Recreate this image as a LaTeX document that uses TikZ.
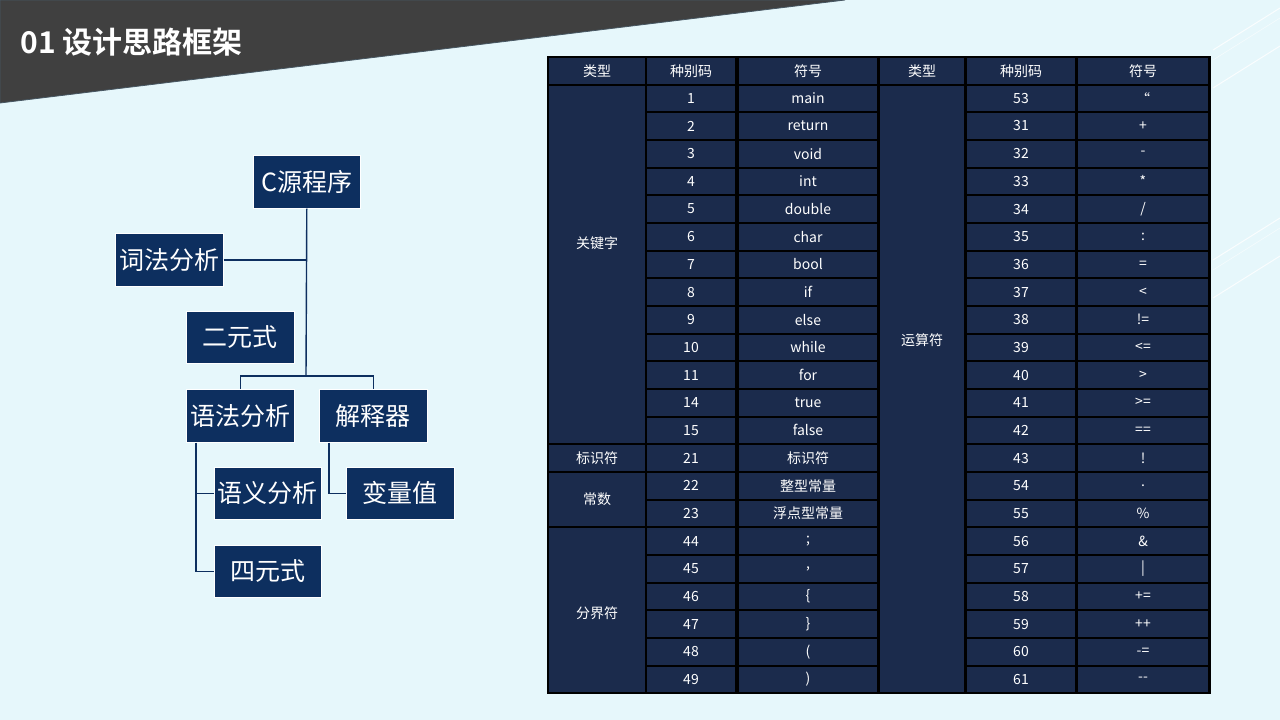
\documentclass[tikz,border=0pt]{standalone}
\usepackage{fontspec}
\setmainfont{Noto Sans CJK SC}
\newfontfamily\cjkb{Noto Sans CJK SC}[BoldFont={* Bold}]
\definecolor{bg}{HTML}{E6F7FB}
\definecolor{cell}{HTML}{1B2B4C}
\definecolor{boxc}{HTML}{0D2F5F}
\definecolor{ban}{HTML}{404040}
\begin{document}
\begin{tikzpicture}[x=1pt,y=-1pt,
  box/.style={fill=boxc,draw=white,line width=0.6pt,text=white,font=\fontsize{25}{25}\selectfont,inner sep=0pt,anchor=north west},
  conn/.style={draw=boxc,line width=1.4pt},
  tx/.style={text=white,font=\fontsize{14}{14}\selectfont}]
\fill[bg] (0,0) rectangle (1280,720);
\useasboundingbox (0,0) rectangle (1280,720);
% decorations
\foreach \y in {0,210} {
  \draw[white,line width=1pt,opacity=.8] (1213,50+\y) -- (1280,8+\y);
  \draw[white,line width=0.6pt,opacity=.6] (1213,60+\y) -- (1280,18+\y);
  \draw[white,line width=1pt,opacity=.8] (1213,88+\y) -- (1280,46+\y);
}
% banner
\fill[ban,draw=black!70!cyan,line width=0.8pt] (0,0) -- (845,0) -- (0,103) -- cycle;
\node[anchor=west,text=white,font=\cjkb\bfseries\fontsize{30}{30}\selectfont] (title) at (17,42) {01 设计思路框架};
% tree
\node[box,minimum width=107,minimum height=53] (c) at (253,155) {C源程序};
\node[box,minimum width=108,minimum height=53] (lex) at (115,233) {词法分析};
\node[box,minimum width=108,minimum height=52] (bin) at (186,311) {二元式};
\node[box,minimum width=108,minimum height=53] (syn) at (186,389) {语法分析};
\node[box,minimum width=108,minimum height=53] (interp) at (319,389) {解释器};
\node[box,minimum width=107,minimum height=52] (sem) at (214,467) {语义分析};
\node[box,minimum width=108,minimum height=52] (var) at (346,467) {变量值};
\node[box,minimum width=107,minimum height=52] (quad) at (214,545) {四元式};
\coordinate (j) at (306,376);
\draw[conn] (c.south) -- (j);
\draw[conn] (lex.east) -- (lex.east -| j);
\draw[conn] (syn.north) |- (j) -| (interp.north);
\draw[conn] (syn.south west) ++(10,0) coordinate (sl) -- (sl |- quad.west) -- (quad.west);
\draw[conn] (sl |- sem.west) -- (sem.west);
\draw[conn] (interp.south west) ++(10,0) coordinate (il) |- (var.west);
% table
\fill[black] (547,56) rectangle (1211,694);
\def\cx{{549,647,739,880,967,1078}}
\def\cw{{96,88,138,84,108,130}}
\newcommand\cellat[6][]{% [ycenter], col, firstrow, lastrow, text, name
  \pgfmathsetmacro\xa{\cx[#2]}\pgfmathsetmacro\wa{\cw[#2]}
  \pgfmathsetmacro\ya{ifthenelse(#3<0,58,85.5+#3*27.67)}
  \pgfmathsetmacro\yb{85.5+(#4+1)*27.67-2}
  \def\yc{#1}\ifx\yc\empty\pgfmathsetmacro\yc{(\ya+\yb)/2}\fi
  \fill[cell] (\xa,\ya) rectangle (\xa+\wa,\yb);
  \node[tx] (#6) at (\xa+\wa/2,\yc) {#5};}
\cellat{0}{-1}{-1}{类型}{h1}\cellat{1}{-1}{-1}{种别码}{h2}\cellat{2}{-1}{-1}{符号}{h3}
\cellat{3}{-1}{-1}{类型}{h4}\cellat{4}{-1}{-1}{种别码}{h5}\cellat{5}{-1}{-1}{符号}{h6}
\cellat[243]{0}{0}{12}{关键字}{t1}\cellat{0}{13}{13}{标识符}{t2}
\cellat{0}{14}{15}{常数}{t3}\cellat[613]{0}{16}{21}{分界符}{t4}
\cellat[340]{3}{0}{21}{运算符}{t5}
\foreach \c/\s [count=\i from 0] in {1/main,2/return,3/void,4/int,5/double,6/char,7/bool,8/if,9/else,10/while,11/for,14/true,15/false,21/标识符,22/整型常量,23/浮点型常量,44/;,45/{,},46/\{,47/\},48/(,49/)} {
  \cellat{1}{\i}{\i}{\c}{a\i}\cellat{2}{\i}{\i}{\s}{b\i}}
\foreach \c/\s [count=\i from 0] in {53/“,31/+,32/-,33/*,34/{/},35/:,36/=,37/<,38/!=,39/<=,40/>,41/>=,42/==,43/!,54/.,55/\%,56/\&,57/|,58/+=,59/++,60/-=,61/-{}-} {
  \cellat{4}{\i}{\i}{\c}{d\i}\cellat{5}{\i}{\i}{\s}{e\i}}
\end{tikzpicture}
\end{document}
